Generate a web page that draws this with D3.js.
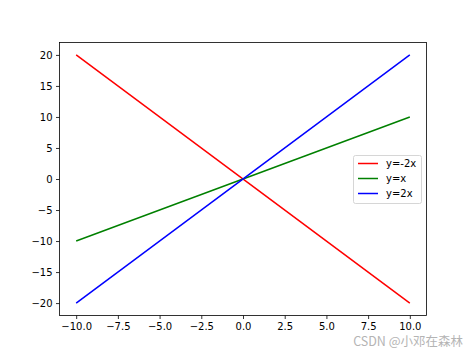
<!DOCTYPE html>
<html><head><meta charset="utf-8">
<script src="https://cdn.jsdelivr.net/npm/d3@7"></script>
<style>body{margin:0;background:#fff}svg{display:block}text{font-family:"DejaVu Sans",sans-serif}</style>
</head><body>
<svg id="c" width="474" height="355"></svg>
<script>
const xs = [-10, 10];
const seriesNames = ["y=-2x", "y=x", "y=2x"];
const seriesValues = [[20, -20], [-10, 10], [-20, 20]];
const seriesColors = ["#ff0000", "#008000", "#0000ff"];
const xTicks = [-10.0, -7.5, -5.0, -2.5, 0.0, 2.5, 5.0, 7.5, 10.0];
const yTicks = [-20, -15, -10, -5, 0, 5, 10, 15, 20];

const svg = d3.select("#c");
const L = 59.5, R = 426.5, T = 42.5, B = 315.5;
const x = d3.scaleLinear().domain([-11, 11]).range([L, R]);
const y = d3.scaleLinear().domain([-22, 22]).range([B, T]);

const gx = svg.append("g").attr("transform", `translate(0,${B})`)
  .call(d3.axisBottom(x).tickValues(xTicks).tickFormat(d3.format(".1f")).tickSizeOuter(0).tickSize(3.5).tickPadding(3.5));
const gy = svg.append("g").attr("transform", `translate(${L},0)`)
  .call(d3.axisLeft(y).tickValues(yTicks).tickFormat(d3.format("d")).tickSizeOuter(0).tickSize(3.5).tickPadding(3.5));
[gx, gy].forEach(g => {
  g.select(".domain").remove();
  g.selectAll("text").attr("font-size", 10).attr("fill", "#000").style("font-family", "DejaVu Sans");
  g.selectAll("line").attr("stroke", "#000").attr("stroke-width", 0.8);
});
gx.selectAll("text").text(d => d3.format(".1f")(d).replace("-", "\u2212"));
gy.selectAll("text").text(d => String(d).replace("-", "\u2212"));

const line = d3.line().x((d, i) => x(xs[i])).y(d => y(d));
seriesValues.forEach((v, k) => {
  svg.append("path").attr("d", line(v)).attr("fill", "none")
    .attr("stroke", seriesColors[k]).attr("stroke-width", 1.5);
});

svg.append("rect").attr("x", L).attr("y", T).attr("width", R - L).attr("height", B - T)
  .attr("fill", "none").attr("stroke", "#000").attr("stroke-width", 0.8);

// legend
const lg = svg.append("g");
lg.append("rect").attr("x", 353.5).attr("y", 155.5).attr("width", 68).attr("height", 48)
  .attr("rx", 2).attr("fill", "#fff").attr("fill-opacity", 0.8).attr("stroke", "#ccc").attr("stroke-width", 0.8);
seriesNames.forEach((n, k) => {
  const yy = 163.5 + k * 15;
  lg.append("line").attr("x1", 358).attr("x2", 378).attr("y1", yy).attr("y2", yy)
    .attr("stroke", seriesColors[k]).attr("stroke-width", 1.5);
  lg.append("text").attr("x", 386).attr("y", yy + 3.5).attr("font-size", 10).attr("fill", "#000")
    .text(n);
});

svg.append("text").attr("x", 463).attr("y", 346).attr("text-anchor", "end")
  .attr("font-size", 12.5).attr("fill", "#b4b4b4").style("font-family", "'Noto Sans CJK SC', sans-serif")
  .text("CSDN @小邓在森林");
</script>
</body></html>
